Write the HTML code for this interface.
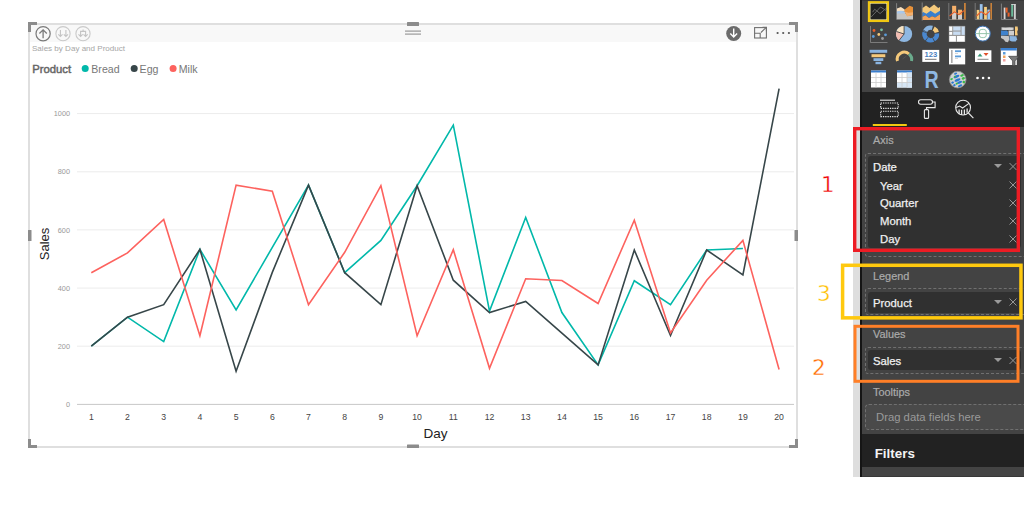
<!DOCTYPE html>
<html><head><meta charset="utf-8">
<style>
*{margin:0;padding:0;box-sizing:border-box}
html,body{width:1024px;height:512px;overflow:hidden;background:#fff;font-family:"Liberation Sans",Arial,sans-serif}
.abs{position:absolute}
#chart{position:absolute;left:0;top:0}
/* panel */
#strip{left:853.3px;top:0;width:6.3px;height:476.6px;background:#dedede}
#edge{left:860.4px;top:0;width:1.8px;height:476.6px;background:#151515}
#top{left:862px;top:0;width:162px;height:92px;background:#434343}
#tabs{left:862px;top:92px;width:162px;height:35px;background:#222}
#wells{left:862px;top:127px;width:162px;height:307px;background:#434343}
#filt{left:862px;top:434px;width:162px;height:33px;background:#222}
#below{left:862px;top:467px;width:162px;height:9.6px;background:#444;border-bottom:1.6px solid #383838}
.lbl{position:absolute;left:873px;font-size:10.9px;color:#ababab;line-height:1;-webkit-text-stroke:0.2px #ababab}
.dash{position:absolute;left:865px;width:162px;border:1px dashed #707070;border-radius:3px}
.pill{position:absolute;left:868px;width:153px;background:#303030;border-radius:3px}
.ft{position:absolute;font-size:11.3px;color:#f0f0f0;line-height:1;-webkit-text-stroke:0.25px #f0f0f0}
.x{position:absolute;left:1008px;width:9px;height:9px}
.tri{position:absolute;left:994px;width:0;height:0;border-left:4px solid transparent;border-right:4px solid transparent;border-top:4px solid #9a9a9a}
.ann{position:absolute;font-family:"DejaVu Sans","Liberation Sans",sans-serif;line-height:1}
</style></head><body>

<svg id="chart" width="850" height="512" viewBox="0 0 850 512" font-family="Liberation Sans, Arial, sans-serif">
  <!-- frame -->
  <rect x="29" y="24" width="768" height="423" fill="#fff" stroke="#dcdcdc" stroke-width="1.8"/>
  <rect x="30" y="25" width="766" height="17" fill="#f8f8f8"/>
  <!-- corner handles -->
  <path d="M28 22h9v3h-6v7h-3z" fill="#8c8c8c"/>
  <path d="M798 22h-9v3h6v7h3z" fill="#8c8c8c"/>
  <path d="M28 448h9v-3h-6v-6h-3z" fill="#8c8c8c"/>
  <path d="M798 448h-9v-3h6v-6h3z" fill="#8c8c8c"/>
  <!-- mid handles -->
  <rect x="407" y="22" width="12" height="4" rx="0.5" fill="#8c8c8c"/>
  <rect x="407" y="444.5" width="12" height="3.5" rx="0.5" fill="#8c8c8c"/>
  <rect x="28" y="230" width="3.5" height="11" rx="0.3" fill="#8c8c8c"/>
  <rect x="794.5" y="230" width="3.5" height="11" rx="0.3" fill="#8c8c8c"/>
  <!-- gripper -->
  <rect x="405" y="30.5" width="16" height="1.2" fill="#9a9a9a"/>
  <rect x="405" y="33.5" width="16" height="1.2" fill="#9a9a9a"/>
  <!-- drill icons -->
  <g fill="none" stroke-width="1.1">
    <circle cx="43.1" cy="33.7" r="7.1" stroke="#7a7a7a" stroke-width="1.2"/>
    <path d="M43.1 30v8.2M39.4 33.5l3.7-3.6 3.7 3.6" stroke="#7a7a7a" stroke-width="1.3"/>
    <circle cx="63" cy="33.7" r="7.1" stroke="#cacaca"/>
    <path d="M60.4 29.9v6.6M58.3 34.4l2.1 2.1 2.1-2.1M65.9 29.9v6.6M63.8 34.4l2.1 2.1 2.1-2.1" stroke="#c4c4c4"/>
    <circle cx="83" cy="33.7" r="7.1" stroke="#cacaca"/>
    <path d="M83.1 29.4v2M80.6 36.5v-5.1h5v5.1M78.5 34.4l2.1 2.1 2.1-2.1M83.5 34.4l2.1 2.1 2.1-2.1" stroke="#c4c4c4"/>
  </g>
  <!-- right header icons -->
  <circle cx="733.7" cy="33.5" r="7.5" fill="#6b6b6b"/>
  <path d="M733.7 28.5v8M730.3 33.6l3.4 3.4 3.4-3.4" fill="none" stroke="#fff" stroke-width="1.4"/>
  <g fill="none" stroke="#707070" stroke-width="1.1">
    <rect x="754.6" y="27.6" width="11.8" height="10.4"/>
    <path d="M754.6 33.3h5.6v4.7M761 32.5l5.2-5.2M762.5 27.3h3.9v3.9"/>
  </g>
  <g fill="#555">
    <circle cx="777.6" cy="33" r="1.1"/><circle cx="783.2" cy="33" r="1.1"/><circle cx="788.9" cy="33" r="1.1"/>
  </g>
  <!-- title -->
  <text x="32" y="50.7" font-size="8.05" fill="#a6a6a6">Sales by Day and Product</text>
  <!-- legend -->
  <text x="32.2" y="72.8" font-size="11.3" fill="#666" stroke="#666" stroke-width="0.45">Product</text>
  <circle cx="85.2" cy="68.5" r="3.5" fill="#01B8AA"/>
  <text x="91.3" y="72.8" font-size="10.6" fill="#777">Bread</text>
  <circle cx="134.2" cy="68.5" r="3.5" fill="#374649"/>
  <text x="139.6" y="72.8" font-size="10.6" fill="#777">Egg</text>
  <circle cx="173.1" cy="68.5" r="3.5" fill="#FD625E"/>
  <text x="178.8" y="72.8" font-size="10.6" fill="#777">Milk</text>
  <!-- gridlines -->
  <g stroke="#ececec" stroke-width="1">
    <line x1="77" y1="113.6" x2="794" y2="113.6"/>
    <line x1="77" y1="171.8" x2="794" y2="171.8"/>
    <line x1="77" y1="229.9" x2="794" y2="229.9"/>
    <line x1="77" y1="288.1" x2="794" y2="288.1"/>
    <line x1="77" y1="346.2" x2="794" y2="346.2"/>
  </g>
  <line x1="77" y1="404.4" x2="794" y2="404.4" stroke="#c8c8c8" stroke-width="1"/>
  <!-- y labels -->
  <g font-size="7.3" fill="#999" text-anchor="end">
    <text x="70" y="116.2">1000</text>
    <text x="70" y="174.4">800</text>
    <text x="70" y="232.5">600</text>
    <text x="70" y="290.7">400</text>
    <text x="70" y="348.8">200</text>
    <text x="70" y="407">0</text>
  </g>
  <!-- x labels -->
  <g font-size="8.7" fill="#444" text-anchor="middle">
    <text x="91.3" y="420">1</text><text x="127.5" y="420">2</text><text x="163.7" y="420">3</text><text x="199.9" y="420">4</text><text x="236.1" y="420">5</text>
    <text x="272.3" y="420">6</text><text x="308.5" y="420">7</text><text x="344.7" y="420">8</text><text x="380.9" y="420">9</text><text x="417.1" y="420">10</text>
    <text x="453.3" y="420">11</text><text x="489.5" y="420">12</text><text x="525.7" y="420">13</text><text x="561.9" y="420">14</text><text x="598.1" y="420">15</text>
    <text x="634.3" y="420">16</text><text x="670.5" y="420">17</text><text x="706.7" y="420">18</text><text x="742.9" y="420">19</text><text x="779.1" y="420">20</text>
  </g>
  <!-- axis titles -->
  <text x="435.6" y="437.5" font-size="13.5" fill="#222" text-anchor="middle">Day</text>
  <text transform="translate(48.8,244) rotate(-90)" font-size="13" fill="#222" text-anchor="middle">Sales</text>
  <!-- series -->
  <g fill="none" stroke-width="1.6" stroke-linejoin="miter">
    <polyline stroke="#01B8AA" points="91.3,346.2 127.5,317.2 163.7,341.6 199.9,249.4 236.1,309.9 272.3,247.4 308.5,185.1 344.7,272.7 380.9,240.4 417.1,185.7 453.3,125.1 489.5,311.1 525.7,217.4 561.9,312.5 598.1,364.9 634.3,280.8 670.5,304.7 706.7,250.0 742.9,248.5"/>
    <polyline stroke="#374649" points="91.3,346.2 127.5,317.2 163.7,304.7 199.9,249.4 236.1,371.2 272.3,272.4 308.5,185.1 344.7,272.7 380.9,304.7 417.1,185.7 453.3,280.2 489.5,312.5 525.7,301.5 561.9,333.2 598.1,364.9 634.3,250.0 670.5,335.5 706.7,250.0 742.9,275.0 779.1,88.6"/>
    <polyline stroke="#FD625E" points="91.3,272.7 127.5,252.9 163.7,219.5 199.9,335.8 236.1,185.1 272.3,191.2 308.5,304.7 344.7,252.3 380.9,185.7 417.1,335.8 453.3,249.7 489.5,368.3 525.7,278.8 561.9,280.5 598.1,303.5 634.3,220.3 670.5,332.9 706.7,280.2 742.9,240.4 779.1,369.5"/>
  </g>
</svg>

<!-- annotation numbers -->
<svg class="abs" style="left:800px;top:160px" width="40" height="230" viewBox="800 160 40 230" font-family="DejaVu Sans, Liberation Sans, sans-serif">
  <text x="821" y="192" font-size="21" fill="#f00000" stroke="#fff" stroke-width="0.35">1</text>
  <text x="817" y="301" font-size="21.5" fill="#ffc000" stroke="#fff" stroke-width="0.35">3</text>
  <text x="812" y="374.5" font-size="21.5" fill="#ff6a00" stroke="#fff" stroke-width="0.35">2</text>
</svg>

<!-- panel -->
<div class="abs" id="strip"></div>
<div class="abs" id="edge"></div>
<div class="abs" id="top"></div>
<div class="abs" style="left:862px;top:0;width:162px;height:1px;background:#393939"></div>
<div class="abs" id="tabs"></div>
<div class="abs" id="wells"></div>
<div class="abs" id="filt"></div>
<div class="abs" id="below"></div>

<!-- viz icons -->
<svg class="abs" style="left:862px;top:0" width="162" height="92" viewBox="862 0 162 92" font-family="Liberation Sans, Arial, sans-serif">
  <!-- row1 -->
  <rect x="868.9" y="2.2" width="19.1" height="18.8" fill="#222" stroke="#f2c811" stroke-width="2.1"/>
  <rect x="870.2" y="3.5" width="16.5" height="16.2" fill="none" stroke="#f7e9a0" stroke-width="0.6"/>
  <path d="M870.9 17.3L880.5 7l6.1 3.8M872.6 12.2l2.1-3 5.4 4.4 5.6-5" fill="none" stroke="#666" stroke-width="1"/>
  <g>
    <path d="M896.6 3.2v16.5" stroke="#8a8a8a" stroke-width="0.9"/>
    <path d="M897 19.6V11l4 .4 4 1.6 4 2.5 4-.5v4.6z" fill="#c4c4c4"/>
    <path d="M897 11.4V8.4l3.9-1.5 3.8 2.7 .3 2.2-4-.6z" fill="#f8e0c0"/>
    <path d="M897 11.4l4-.6 3.8.6 1 1.8-4.6.4-4.2-.2z" fill="#a8c8ec"/>
    <path d="M904.7 9.6l4.9-3.8 3.4 1.3v7.9l-5.8 1.2-2.7-4.7z" fill="#e8923a"/>
    <path d="M904.5 11.5l2.7 4.7 5.8-1.2v-2.8l-4.6.6z" fill="#f2b070"/>
  </g>
  <g>
    <path d="M922.2 2.5v18" stroke="#8a8a8a" stroke-width="0.9"/>
    <path d="M922.6 8.1l3.4-2.5 3.6 2.5 4.5-3.5 4.1 3.5 1.8-1v4.6l-4.9 3-4.5-3-4.1 3-4-2z" fill="#f5c97b"/>
    <path d="M922.6 11.7l3.9 2 4.1-3 4.5 3 4.9-3v3.5l-4.9 3.3-3.1-1.3-3 1.8-3.5-2.8-3 1.6z" fill="#3a7fcf"/>
    <path d="M922.6 16.8l2.9-1.6 3.5 2.8 3-1.8 3.1 1.3 4.9-3.3v5.9h-17.4z" fill="#f2a35c"/>
  </g>
  <g>
    <path d="M948.8 3v16.5h17" fill="none" stroke="#7e7e7e" stroke-width="0.9"/>
    <rect x="952.1" y="5.8" width="4.1" height="13.5" fill="#f6b06a"/><rect x="952.1" y="12.6" width="4.1" height="6.7" fill="#cfcfcf"/>
    <rect x="958" y="9.7" width="4" height="9.6" fill="#f6b06a"/><rect x="958" y="15" width="4" height="4.3" fill="#cfcfcf"/>
    <rect x="964" y="3" width="1.8" height="16.3" fill="#c8813a"/>
    <path d="M949.6 16l4.8-4.1 4.5 2.8 5.4-4.3" fill="none" stroke="#e8602a" stroke-width="1.1"/>
  </g>
  <g>
    <path d="M975.2 3v16.5h17" fill="none" stroke="#7e7e7e" stroke-width="0.9"/>
    <rect x="976.7" y="9.9" width="2.6" height="9.4" fill="#f8cf80"/>
    <rect x="979.8" y="4.1" width="2.8" height="15.2" fill="#9cc4ee"/>
    <rect x="984.1" y="6.9" width="2.8" height="12.4" fill="#f8cf80"/>
    <rect x="987.4" y="9.6" width="2.6" height="9.7" fill="#9cc4ee"/>
    <rect x="990.4" y="3" width="1.6" height="16.3" fill="#c8813a"/>
    <path d="M976.5 16l4.5-4.2 5 2.9 4.4-4.3" fill="none" stroke="#e8602a" stroke-width="1.1"/>
  </g>
  <g>
    <path d="M1001.4 3.6v15.9h16.1" fill="none" stroke="#8a8a8a" stroke-width="0.9"/>
    <rect x="1003.7" y="7.6" width="1.8" height="11.4" fill="#d8d8d8"/>
    <rect x="1005.6" y="7.6" width="2" height="5" fill="#e8602a"/>
    <rect x="1007.6" y="12.6" width="2" height="4" fill="#e8602a"/>
    <rect x="1011.2" y="4.5" width="1.9" height="12.1" fill="#6ab898"/>
    <rect x="1013.9" y="4.5" width="1.9" height="14.5" fill="#d0d0d0"/>
    <rect x="1011.2" y="4.2" width="4.6" height="0.8" fill="#e8e8e8"/>
  </g>
  <!-- row2 -->
  <g>
    <path d="M870.5 26v16.5h17" fill="none" stroke="#8a8a8a" stroke-width="0.8"/>
    <circle cx="874" cy="30.5" r="1.4" fill="#e8602a"/>
    <circle cx="881.5" cy="29.8" r="1.4" fill="#7ac2a0"/>
    <circle cx="878.8" cy="34.5" r="1.4" fill="#f5c97b"/>
    <circle cx="873.3" cy="36.5" r="1.4" fill="#5b9bd8"/>
    <circle cx="885.5" cy="34.8" r="1.4" fill="#5b9bd8"/>
    <circle cx="882.5" cy="38.5" r="1.4" fill="#9a9a9a"/>
  </g>
  <g>
    <circle cx="904.1" cy="34" r="8.1" fill="#8fb8e2"/>
    <path d="M904.1 34L904.10 25.90A8.1 8.1 0 0 0 896.40 31.50z" fill="#f8e3c2"/>
    <path d="M904.1 34L896.40 31.50A8.1 8.1 0 0 0 899.11 40.38z" fill="#f2bcb0"/>
    <path d="M904.10 25.90L904.1 34L896.40 31.50M904.1 34L899.11 40.38" fill="none" stroke="#333" stroke-width="0.8"/>
  </g>
  <g>
    <path d="M925.24 30.85A6.3 6.3 0 0 1 932.33 27.91" fill="none" stroke="#8ab4e0" stroke-width="4.4"/>
    <path d="M933.66 28.44A6.3 6.3 0 0 1 936.79 32.37" fill="none" stroke="#f5c97b" stroke-width="4.4"/>
    <path d="M936.98 33.45A6.3 6.3 0 0 1 933.85 39.46" fill="none" stroke="#4a88d0" stroke-width="4.4"/>
    <path d="M933.26 39.76A6.3 6.3 0 0 1 927.09 39.16" fill="none" stroke="#4a88d0" stroke-width="4.4"/>
    <path d="M926.57 38.75A6.3 6.3 0 0 1 924.61 32.37" fill="none" stroke="#4a88d0" stroke-width="4.4"/>
    <path d="M924.78 31.85A6.3 6.3 0 0 1 925.09 31.14" fill="none" stroke="#4a88d0" stroke-width="4.4"/>
  </g>
  <g>
    <rect x="948.8" y="25.9" width="16.4" height="16.1" fill="#9a9a9a"/>
    <rect x="949.3" y="26.6" width="2.9" height="4.2" fill="#fff"/>
    <rect x="949.3" y="32" width="2.9" height="2.8" fill="#fff"/>
    <rect x="953.2" y="26.6" width="7.3" height="3.9" fill="#c8dcf2"/>
    <rect x="953.2" y="31.6" width="7.3" height="3.3" fill="#c8dcf2"/>
    <rect x="961.6" y="26.6" width="3.1" height="8.3" fill="#c8dcf2"/>
    <rect x="949.3" y="36" width="6.6" height="5.6" fill="#fff"/>
    <rect x="957" y="36" width="7.7" height="5.6" fill="#fff"/>
  </g>
  <g>
    <circle cx="982.8" cy="33.6" r="7.5" fill="#fff" stroke="#3a70b0" stroke-width="1"/>
    <rect x="979.3" y="29.4" width="7" height="8.2" rx="2.5" fill="none" stroke="#8cc0a4" stroke-width="0.9"/>
    <path d="M975.6 33.6h14.4" stroke="#8cc0a4" stroke-width="0.9"/>
  </g>
  <g>
    <path d="M1001.5 27.2l4 .4 4-.4 4.2.2-.2 2.6-12 0z" fill="#c8c8c8"/>
    <path d="M1002.5 28.4h10M1003 29.4h9" stroke="#e8e8e8" stroke-width="0.5"/>
    <path d="M1001 30.6l3 .2 2.5 -.4 1.6 1.4-.2 3.4-6.9.2z" fill="#3f82cc"/>
    <path d="M1008.6 30.6l5.4.2v4.6l-5.4.2z" fill="#cfcfcf"/>
    <path d="M1015 26.6l2.6-.2.4 3.2-.8 2.2.6 3.4-2.8.4z" fill="#f5c97b"/>
    <path d="M1001 35.8l7.8.2.4 3.4-1.2 2.8-2.6-.4-1.6-2.2-2.8-1.6z" fill="#c4c4c4"/>
    <path d="M1009.5 36l6.8.2.8 3-1.4 2.2-3.8.2-2.4-1z" fill="#8ab4e0"/>
  </g>
  <!-- row3 -->
  <g>
    <rect x="869.6" y="49.8" width="17.6" height="3" fill="#8ab4e0"/>
    <rect x="871.5" y="54.2" width="13.8" height="3" fill="#f5c97b"/>
    <rect x="873.5" y="58.2" width="9.8" height="2.8" fill="#8ab4e0"/>
    <rect x="875.5" y="61.8" width="5.8" height="2.4" fill="#8ab4e0"/>
  </g>
  <g>
    <path d="M897.5 61a7 7 0 0 1 11.5-7" fill="none" stroke="#f5c97b" stroke-width="3"/>
    <path d="M909 54a7 7 0 0 1 2.5 7" fill="none" stroke="#6aab8c" stroke-width="3"/>
    <path d="M902.5 59l4-3" stroke="#555" stroke-width="0.8"/>
  </g>
  <g>
    <rect x="922.3" y="49.9" width="17" height="12" fill="#fff"/>
    <text x="930.8" y="57.3" font-size="7.6" font-weight="bold" fill="#4a7fc0" text-anchor="middle">123</text>
    <rect x="925" y="58.8" width="11.5" height="1" fill="#777"/>
  </g>
  <g>
    <rect x="949" y="48.6" width="16.2" height="15.8" fill="#fff"/>
    <rect x="951" y="50" width="1.6" height="13" fill="#aaa"/>
    <rect x="955" y="50.3" width="6" height="1.8" fill="#5b9bd8"/>
    <rect x="955" y="53" width="3" height="0.8" fill="#ccc"/>
    <rect x="955" y="55.5" width="6" height="1.8" fill="#5b9bd8"/>
    <rect x="955" y="58.2" width="3" height="0.8" fill="#ccc"/>
  </g>
  <g>
    <rect x="975" y="50.3" width="16.4" height="11.7" fill="#fff"/>
    <path d="M977.5 56.5l2.5-3 2.5 3z" fill="#3a9a78"/>
    <path d="M983.5 53h5l-2.5 3z" fill="#e0502a"/>
    <rect x="977.5" y="58.8" width="11" height="1" fill="#888"/>
  </g>
  <g>
    <rect x="1000.8" y="48" width="16" height="17" fill="#fff"/>
    <rect x="1000.8" y="48" width="16" height="2.5" fill="#3a7fcf"/>
    <rect x="1003" y="52" width="2.5" height="2.5" fill="#5b9bd8"/>
    <rect x="1003" y="55.5" width="2.5" height="2.5" fill="#f2a35c"/>
    <rect x="1003" y="59" width="2.5" height="2.5" fill="#f0a0a0"/>
    <path d="M1008.6 56.3h10.4l-4 4.6v4.8h-2.4v-4.8z" fill="#7a7a7a" stroke="#414141" stroke-width="0.7"/>
  </g>
  <!-- row4 -->
  <g>
    <rect x="871" y="70.5" width="15" height="17" fill="#fff"/>
    <rect x="871" y="70.5" width="15" height="2" fill="#3a7fcf"/>
    <path d="M871 77.5h15M871 82.5h15M876 72.5v15M881 72.5v15" stroke="#ccc" stroke-width="0.8"/>
  </g>
  <g>
    <rect x="897" y="70.5" width="15" height="17" fill="#fff"/>
    <rect x="897" y="70.5" width="15" height="2" fill="#3a7fcf"/>
    <rect x="907" y="72.5" width="5" height="15" fill="#d6e6f5"/>
    <rect x="897" y="82.5" width="15" height="5" fill="#d6e6f5"/>
    <path d="M897 77.5h15M897 82.5h15M902 72.5v15M907 72.5v15" stroke="#ccc" stroke-width="0.8"/>
  </g>
  <text transform="translate(924.4,87.5) scale(0.84,1)" font-size="23.4" font-weight="bold" fill="#8fb8e2">R</text>
  <g>
    <circle cx="957.7" cy="79.6" r="8.3" fill="#d2d2d2" stroke="#8e8e8e" stroke-width="0.9"/>
    <ellipse cx="955.6" cy="73.7" rx="1.7" ry="0.9" transform="rotate(-22 955.6 73.7)" fill="#2a78d0"/>
    <ellipse cx="956.5" cy="76.5" rx="3.1" ry="1.3" transform="rotate(-22 956.5 76.5)" fill="#2a78d0"/>
    <ellipse cx="957.5" cy="80" rx="3.2" ry="1.4" transform="rotate(-22 957.5 80)" fill="#2a78d0"/>
    <ellipse cx="959.6" cy="82.4" rx="2.6" ry="1.2" transform="rotate(-22 959.6 82.4)" fill="#2a78d0"/>
    <ellipse cx="960" cy="85.7" rx="2.3" ry="1.1" transform="rotate(-22 960 85.7)" fill="#2a78d0"/>
    <ellipse cx="952.6" cy="82.6" rx="1.4" ry="1.1" transform="rotate(-22 952.6 82.6)" fill="#2a78d0"/>
    <ellipse cx="954.4" cy="85.2" rx="1.3" ry="1" transform="rotate(-22 954.4 85.2)" fill="#2a78d0"/>
    <ellipse cx="962" cy="75.4" rx="1.9" ry="1.1" transform="rotate(-22 962 75.4)" fill="#3ab84a"/>
    <ellipse cx="963.3" cy="78.4" rx="1.7" ry="1.3" transform="rotate(-22 963.3 78.4)" fill="#3ab84a"/>
    <ellipse cx="963.8" cy="82" rx="1.3" ry="1.3" transform="rotate(-22 963.8 82)" fill="#3ab84a"/>
    <ellipse cx="951.6" cy="79.1" rx="1.4" ry="1" transform="rotate(-22 951.6 79.1)" fill="#3ab84a"/>
    <ellipse cx="956.8" cy="83.6" rx="1.2" ry="1" transform="rotate(-22 956.8 83.6)" fill="#3ab84a"/>
    <ellipse cx="954.9" cy="76.6" rx="1.1" ry="0.8" transform="rotate(-22 954.9 76.6)" fill="#3ab84a"/>
  </g>
  <g fill="#fff">
    <circle cx="977.5" cy="78" r="1.3"/><circle cx="983.1" cy="78" r="1.3"/><circle cx="988.9" cy="78" r="1.3"/>
  </g>
</svg>

<!-- tab icons -->
<svg class="abs" style="left:862px;top:92px" width="162" height="35" viewBox="862 92 162 35">
  <g fill="none" stroke="#e8e8e8" stroke-width="1.1">
    <path d="M880 100.2h15"/>
    <rect x="880.7" y="103" width="17.5" height="5.4" stroke-dasharray="1.3 1"/>
    <rect x="880.7" y="111.3" width="17.5" height="5.3" stroke-dasharray="1.3 1"/>
    <rect x="918.5" y="99.8" width="14" height="4.4" rx="2.2"/>
    <path d="M932.5 102h2.6v5.6h-8.6v1.9"/>
    <rect x="924.4" y="109.6" width="4.2" height="8.8" rx="1"/>
    <circle cx="963.1" cy="107.6" r="7.4"/>
    <path d="M968.4 113l5 5.2"/>
    <path d="M956.2 107.4l3.4-1.4 3 2 6.4-4.6"/>
    <path d="M959.1 109.6v4.6M961.6 109.8v5.2M964.4 109.6v5.3M967.1 108.4v4.3" stroke-width="1.3"/>
  </g>
  <rect x="872.8" y="124" width="34" height="2" fill="#f2c811"/>
</svg>

<!-- wells -->
<div class="lbl" style="top:135px">Axis</div>
<div class="dash" style="top:152.5px;height:104px"></div>
<div class="pill" style="top:156.3px;height:91.5px"></div>
<div class="ft" style="left:873px;top:162.0px">Date</div>
<div class="ft" style="left:880px;top:180.5px">Year</div>
<div class="ft" style="left:880px;top:198.3px">Quarter</div>
<div class="ft" style="left:880px;top:216.0px">Month</div>
<div class="ft" style="left:880px;top:233.5px">Day</div>
<div class="tri" style="top:164px"></div>

<div class="lbl" style="top:271px">Legend</div>
<div class="dash" style="top:288px;height:27px"></div>
<div class="pill" style="top:292px;height:20.5px"></div>
<div class="ft" style="left:873px;top:297.7px">Product</div>
<div class="tri" style="top:299.5px"></div>

<div class="lbl" style="top:329px">Values</div>
<div class="dash" style="top:346.5px;height:27px"></div>
<div class="pill" style="top:350.4px;height:20px"></div>
<div class="ft" style="left:873px;top:355.7px">Sales</div>
<div class="tri" style="top:357.5px"></div>

<div class="lbl" style="top:387.3px">Tooltips</div>
<div class="dash" style="top:404px;height:26px;background:#4a4a4a;border-radius:4px"></div>
<div class="abs" style="left:876px;top:412px;font-size:11.3px;color:#9a9a9a;line-height:1">Drag data fields here</div>

<div class="abs" style="left:874.7px;top:446.5px;font-size:13.4px;font-weight:bold;color:#f4f4f4;line-height:1">Filters</div>

<svg class="abs" style="left:0;top:0" width="1024" height="512" viewBox="0 0 1024 512">
  <g stroke="#a0a0a0" stroke-width="0.9" fill="none">
    <path d="M1009.5 163.0l7 7M1016.5 163.0l-7 7"/>
    <path d="M1009.5 181.5l7 7M1016.5 181.5l-7 7"/>
    <path d="M1009.5 199.5l7 7M1016.5 199.5l-7 7"/>
    <path d="M1009.5 217.5l7 7M1016.5 217.5l-7 7"/>
    <path d="M1009.5 235.5l7 7M1016.5 235.5l-7 7"/>
    <path d="M1009.5 298.5l7 7M1016.5 298.5l-7 7"/>
    <path d="M1009.5 357.0l7 7M1016.5 357.0l-7 7"/>
  </g>
  <!-- annotation boxes -->
  <rect x="854.7" y="128.7" width="163.6" height="121.6" fill="none" stroke="#ed1c24" stroke-width="3.4"/>
  <rect x="842.6" y="265.3" width="178.35" height="52.55" fill="none" stroke="#ffc90e" stroke-width="3.5"/>
  <rect x="855" y="326.3" width="163" height="55" fill="none" stroke="#ff7f27" stroke-width="3"/>
</svg>

</body></html>
